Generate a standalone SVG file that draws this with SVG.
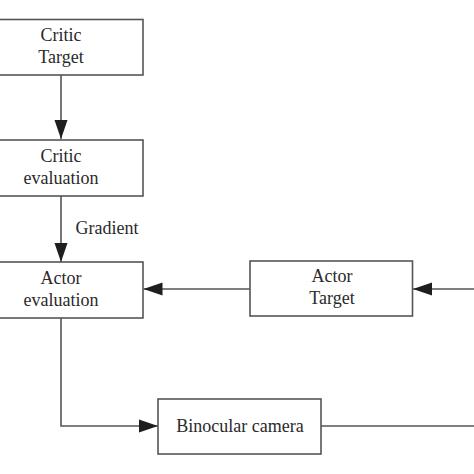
<svg xmlns="http://www.w3.org/2000/svg" width="474" height="474" viewBox="0 0 474 474">
<defs>
<marker id="arr" markerUnits="userSpaceOnUse" markerWidth="20" markerHeight="14" viewBox="0 0 20 14" refX="19" refY="7" orient="auto">
<path d="M0,0.5 L19,7 L0,13.5 Z" fill="#1e1e1e"/>
</marker>
</defs>
<style>
rect.box{fill:#fff;stroke:#555;stroke-width:1.6}
text{font-family:"Liberation Serif","Times New Roman",serif;font-size:18px;fill:#2a2a2a;text-anchor:middle}
.c{fill:none;stroke:#555;stroke-width:1.6}
</style>
<rect width="474" height="474" fill="#fff"/>
<g id="connectors">
<line class="c" x1="61" y1="75" x2="61" y2="139" marker-end="url(#arr)"/>
<line class="c" x1="61" y1="196" x2="61" y2="262" marker-end="url(#arr)"/>
<line class="c" x1="250" y1="289" x2="143.5" y2="289" marker-end="url(#arr)"/>
<line class="c" x1="476" y1="289" x2="413" y2="289" marker-end="url(#arr)"/>
<polyline class="c" points="61,318 61,426 158,426" marker-end="url(#arr)"/>
<line class="c" x1="321" y1="426" x2="476" y2="426"/>
<text x="107" y="234">Gradient</text>
</g>
<g id="critic-target">
<rect class="box" x="-20" y="19.5" width="163" height="55.5"/>
<text x="61" y="41">Critic</text>
<text x="61" y="63">Target</text>
</g>
<g id="critic-evaluation">
<rect class="box" x="-20" y="140" width="163" height="56"/>
<text x="61" y="162">Critic</text>
<text x="61" y="184">evaluation</text>
</g>
<g id="actor-evaluation">
<rect class="box" x="-20" y="262" width="163" height="56"/>
<text x="61" y="284">Actor</text>
<text x="61" y="306">evaluation</text>
</g>
<g id="actor-target">
<rect class="box" x="250" y="261" width="162.5" height="55"/>
<text x="332" y="282">Actor</text>
<text x="332" y="304">Target</text>
</g>
<g id="binocular-camera">
<rect class="box" x="158" y="399" width="163" height="55"/>
<text x="240" y="432">Binocular camera</text>
</g>
</svg>
